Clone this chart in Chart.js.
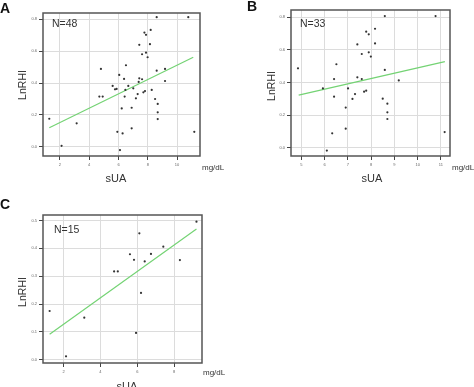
<!DOCTYPE html>
<html>
<head>
<meta charset="utf-8">
<script src="https://cdn.jsdelivr.net/npm/chart.js@4.4.1/dist/chart.umd.min.js"></script>
<style>
body { margin: 0; background: #fff; width: 474px; height: 387px; overflow: hidden; position: relative; }
canvas { position: absolute; }
</style>
</head>
<body>
<canvas id="chartA" width="237" height="190" style="left:0;top:0"></canvas>
<canvas id="chartB" width="234" height="190" style="left:240px;top:0"></canvas>
<canvas id="chartC" width="237" height="192" style="left:0;top:195px"></canvas>
<script>
// Panel A (N=48)
const A_X = [1.27, 2.11, 3.14, 4.80, 4.69, 4.92, 5.60, 5.76, 5.87, 5.92, 6.05, 6.10, 6.22, 6.28, 6.38, 6.42,
             6.47, 6.51, 6.67, 6.90, 6.90, 7.01, 7.19, 7.31, 7.38, 7.42, 7.42, 7.61, 7.61, 7.70, 7.81, 7.77,
             7.88, 7.88, 7.99, 8.15, 8.20, 8.27, 8.50, 8.61, 8.61, 8.68, 8.68, 8.68, 9.18, 9.18, 10.77, 11.18];
const A_Y = [0.176, 0.006, 0.147, 0.489, 0.315, 0.315, 0.382, 0.361, 0.363, 0.094, 0.451, -0.021, 0.241, 0.084, 0.426, 0.315,
             0.357, 0.512, 0.382, 0.245, 0.116, 0.367, 0.304, 0.331, 0.407, 0.430, 0.640, 0.424, 0.581, 0.342, 0.350, 0.717,
             0.703, 0.591, 0.562, 0.644, 0.734, 0.357, 0.300, 0.814, 0.478, 0.269, 0.216, 0.174, 0.489, 0.413, 0.814, 0.094];
const A_FIT_X = [1.27, 11.11];
const A_FIT_Y = [0.119, 0.562];
const A_XTICKS = [2, 4, 6, 8, 10];
const A_YTICKS = [0, 0.2, 0.4, 0.6, 0.8];

// Panel B (N=33)
const B_X = [4.86, 5.93, 6.10, 6.33, 6.41, 6.41, 6.51, 6.91, 6.91, 7.01, 7.20, 7.31, 7.41, 7.41, 7.60, 7.60, 7.70,
             7.79, 7.79, 7.90, 7.90, 7.99, 8.17, 8.17, 8.50, 8.59, 8.59, 8.70, 8.70, 8.70, 9.19, 10.77, 11.16];
const B_Y = [0.487, 0.364, -0.018, 0.088, 0.421, 0.313, 0.512, 0.246, 0.117, 0.364, 0.299, 0.329, 0.432, 0.634, 0.421, 0.575, 0.344,
             0.350, 0.712, 0.696, 0.585, 0.559, 0.730, 0.640, 0.301, 0.808, 0.477, 0.270, 0.217, 0.176, 0.413, 0.808, 0.096];
const B_FIT_X = [4.89, 11.17];
const B_FIT_Y = [0.323, 0.528];
const B_XTICKS = [5, 6, 7, 8, 9, 10, 11];
const B_YTICKS = [0, 0.2, 0.4, 0.6, 0.8];

// Panel C (N=15)
const C_X = [1.24, 2.13, 3.12, 4.74, 4.94, 5.60, 5.82, 5.93, 6.11, 6.20, 6.40, 6.74, 7.41, 8.31, 9.21];
const C_Y = [0.175, 0.012, 0.151, 0.317, 0.317, 0.379, 0.359, 0.096, 0.454, 0.240, 0.353, 0.380, 0.406, 0.358, 0.496];
const C_FIT_X = [1.24, 9.21];
const C_FIT_Y = [0.091, 0.470];
const C_XTICKS = [2, 4, 6, 8];
const C_YTICKS = [0, 0.1, 0.2, 0.3, 0.4, 0.5];

const FIT_COLOR = '#74d374';
const DOT_COLOR = '#333333';

function toPoints(xs, ys) {
    return xs.map((x, i) => ({ x: x, y: ys[i] }));
}

// box around plot + letters and axis labels
const panelText = {
    id: 'panelText',
    afterDraw(chart, args, o) {
        const ctx = chart.ctx;
        const a = chart.chartArea;
        ctx.save();
        ctx.strokeStyle = '#555';
        ctx.lineWidth = 1.5;
        ctx.strokeRect(a.left, a.top, a.right - a.left, a.bottom - a.top);

        ctx.fillStyle = '#111';
        ctx.font = 'bold 14px "Liberation Sans", Arial, sans-serif';
        ctx.textAlign = 'left';
        ctx.fillText(o.letter, o.letterPos[0], o.letterPos[1]);

        ctx.fillStyle = '#333';
        ctx.font = '10.5px "Liberation Sans", Arial, sans-serif';
        ctx.fillText(o.n, o.nPos[0], o.nPos[1]);

        ctx.font = '8px "Liberation Sans", Arial, sans-serif';
        ctx.fillText('mg/dL', o.unitPos[0], o.unitPos[1]);

        ctx.font = '11px "Liberation Sans", Arial, sans-serif';
        ctx.textAlign = 'center';
        ctx.fillText('sUA', o.xTitlePos[0], o.xTitlePos[1]);

        ctx.translate(o.yTitlePos[0], o.yTitlePos[1]);
        ctx.rotate(-Math.PI / 2);
        ctx.textBaseline = 'middle';
        ctx.font = '10.5px "Liberation Sans", Arial, sans-serif';
        ctx.fillText('LnRHI', 0, 0);
        ctx.restore();
    }
};

function makeChart(id, xs, ys, fitX, fitY, xRange, yRange, xTicks, yTicks, yDigits, pad, yW, xH, text) {
    return new Chart(document.getElementById(id), {
        type: 'scatter',
        data: {
            datasets: [{
                data: toPoints(xs, ys),
                pointRadius: 1.1,
                pointBackgroundColor: DOT_COLOR,
                pointBorderWidth: 0
            }, {
                type: 'line',
                data: toPoints(fitX, fitY),
                borderColor: FIT_COLOR,
                borderWidth: 1.2,
                pointRadius: 0,
                fill: false
            }]
        },
        options: {
            responsive: false,
            animation: false,
            devicePixelRatio: 1,
            layout: { padding: pad },
            plugins: {
                legend: { display: false },
                tooltip: { enabled: false },
                panelText: text
            },
            scales: {
                x: {
                    type: 'linear',
                    min: xRange[0],
                    max: xRange[1],
                    afterBuildTicks: (s) => { s.ticks = xTicks.map(v => ({ value: v })); },
                    afterFit: (s) => { s.height = xH; },
                    grid: { color: '#dcdcdc', lineWidth: 1, tickColor: '#444', tickLength: 4 },
                    border: { display: false },
                    ticks: { font: { size: 4 }, color: '#666', padding: 2, maxRotation: 0, autoSkip: false,
                             callback: (v) => String(v) }
                },
                y: {
                    type: 'linear',
                    min: yRange[0],
                    max: yRange[1],
                    afterBuildTicks: (s) => { s.ticks = yTicks.map(v => ({ value: v })); },
                    afterFit: (s) => { s.width = yW; },
                    grid: { color: '#dcdcdc', lineWidth: 1, tickColor: '#444', tickLength: 4 },
                    border: { display: false },
                    ticks: { font: { size: 4 }, color: '#666', padding: 2, autoSkip: false,
                             callback: (v) => v.toFixed(yDigits) }
                }
            }
        },
        plugins: [panelText]
    });
}

makeChart('chartA', A_X, A_Y, A_FIT_X, A_FIT_Y, [0.84, 11.57], [-0.058, 0.84], A_XTICKS, A_YTICKS, 1,
    { top: 13, right: 37, left: 0, bottom: 0 }, 43, 34,
    { letter: 'A', letterPos: [0, 13], n: 'N=48', nPos: [52, 27], unitPos: [202, 170], xTitlePos: [116, 182], yTitlePos: [23, 85] });

makeChart('chartB', B_X, B_Y, B_FIT_X, B_FIT_Y, [4.56, 11.39], [-0.051, 0.845], B_XTICKS, B_YTICKS, 1,
    { top: 10, right: 24, left: 0, bottom: 0 }, 51, 34,
    { letter: 'B', letterPos: [7, 11], n: 'N=33', nPos: [60, 27], unitPos: [212, 170], xTitlePos: [132, 182], yTitlePos: [32, 86] });

makeChart('chartC', C_X, C_Y, C_FIT_X, C_FIT_Y, [0.88, 9.51], [-0.012, 0.52], C_XTICKS, C_YTICKS, 1,
    { top: 20, right: 35, left: 0, bottom: 0 }, 43, 24,
    { letter: 'C', letterPos: [0, 14], n: 'N=15', nPos: [54, 38], unitPos: [203, 180], xTitlePos: [127, 195], yTitlePos: [23, 97] });
</script>
</body>
</html>
